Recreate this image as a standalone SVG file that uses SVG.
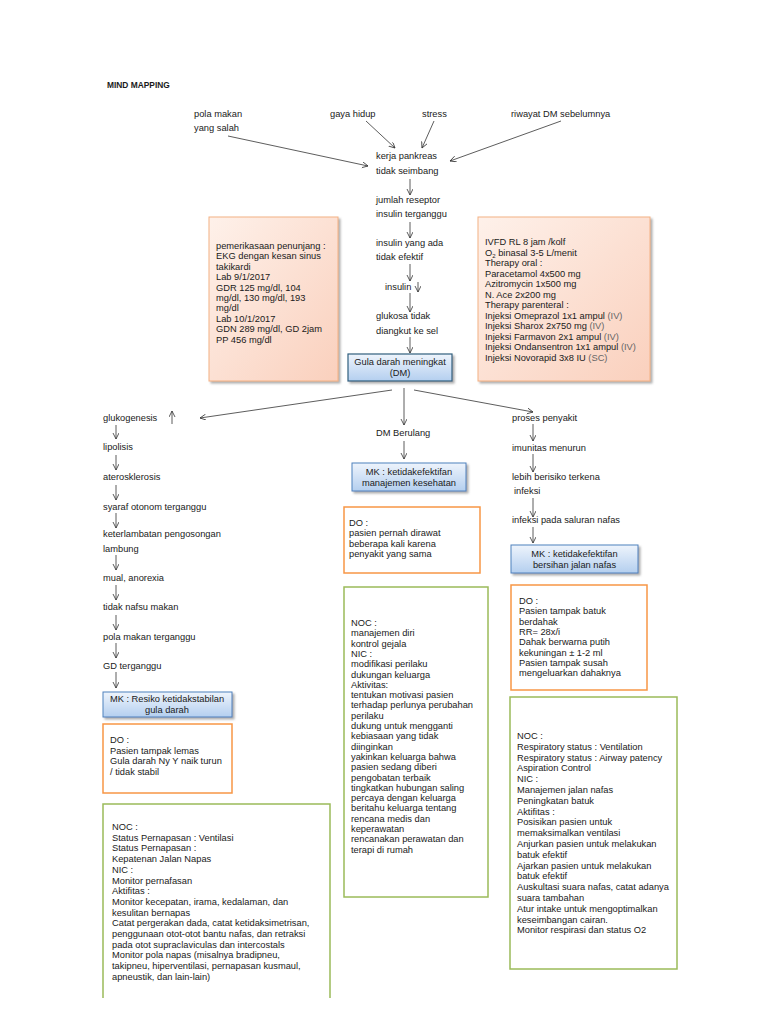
<svg xmlns="http://www.w3.org/2000/svg" width="768" height="1024" viewBox="0 0 768 1024">
<style>
text{font-family:"Liberation Sans",Arial,sans-serif;font-size:9.3px;fill:#1a1a1a}
.title{font-weight:bold;font-size:8.4px}
.c{text-anchor:middle}
.gray{fill:#666}
.arr{stroke:#333;stroke-width:0.8;fill:none;marker-end:url(#ah)}
.mk{fill:url(#blue);stroke:#4f81bd;stroke-width:1;filter:url(#sh)}
.pink{fill:url(#peach);stroke:#f4b183;stroke-width:1;filter:url(#sh)}
.do{fill:#fff;stroke:#f79646;stroke-width:1.5}
.noc{fill:#fff;stroke:#9bbb59;stroke-width:1.5}
</style>
<defs>
<marker id="ah" markerUnits="userSpaceOnUse" markerWidth="8" markerHeight="8" refX="6" refY="3" orient="auto">
<path d="M0,0 L6,3 L0,6" fill="none" stroke="#333" stroke-width="0.8"/>
</marker>
<linearGradient id="blue" x1="0" y1="0" x2="0" y2="1">
<stop offset="0" stop-color="#eef4fc"/><stop offset="1" stop-color="#b4cfef"/>
</linearGradient>
<linearGradient id="peach" x1="0" y1="0" x2="1" y2="1">
<stop offset="0" stop-color="#fef1ea"/><stop offset="1" stop-color="#fad0bd"/>
</linearGradient>
<filter id="sh" x="-10%" y="-10%" width="130%" height="130%">
<feDropShadow dx="2" dy="2" stdDeviation="1.2" flood-color="#777" flood-opacity="0.6"/>
</filter>
</defs>
<rect width="768" height="1024" fill="#fff"/>

<g id="title"><text class="title" x="107" y="88">MIND MAPPING</text></g>

<g id="n-pola-makan"><text x="194" y="117">pola makan</text><text x="194" y="131">yang salah</text></g>
<g id="n-gaya-hidup"><text x="330" y="117">gaya hidup</text></g>
<g id="n-stress"><text x="422" y="117">stress</text></g>
<g id="n-riwayat"><text x="511" y="117">riwayat DM sebelumnya</text></g>

<g id="n-kerja"><text x="376" y="159">kerja pankreas</text><text x="376" y="174">tidak seimbang</text></g>
<g id="n-jumlah"><text x="376" y="203">jumlah reseptor</text><text x="376" y="217">insulin terganggu</text></g>
<g id="n-insulin-ada"><text x="376" y="246">insulin yang ada</text><text x="376" y="260">tidak efektif</text></g>
<g id="n-insulin"><text x="385" y="290">insulin</text></g>
<g id="n-glukosa"><text x="376" y="319">glukosa tidak</text><text x="376" y="334">diangkut ke sel</text></g>
<g id="n-gula-darah"><rect x="348" y="354" width="104" height="27" fill="url(#blue)" stroke="#2f5f7f" stroke-width="1.2" filter="url(#sh)"/>
<text class="c" x="400" y="365">Gula darah meningkat</text><text class="c" x="400" y="376">(DM)</text></g>

<g id="n-penunjang"><rect class="pink" x="209" y="217" width="129" height="164"/>
<text x="216" y="249">pemerikasaan penunjang :<tspan x="216" dy="10.4">EKG dengan kesan sinus</tspan><tspan x="216" dy="10.4">takikardi</tspan><tspan x="216" dy="10.4">Lab 9/1/2017</tspan><tspan x="216" dy="10.4">GDR 125 mg/dl, 104</tspan><tspan x="216" dy="10.4">mg/dl, 130 mg/dl, 193</tspan><tspan x="216" dy="10.4">mg/dl</tspan><tspan x="216" dy="10.4">Lab 10/1/2017</tspan><tspan x="216" dy="10.4">GDN 289 mg/dl, GD 2jam</tspan><tspan x="216" dy="10.4">PP 456 mg/dl</tspan></text></g>

<g id="n-terapi"><rect class="pink" x="478" y="217" width="172" height="164"/>
<text x="485" y="245">IVFD RL 8 jam /kolf<tspan x="485" dy="10.5">O</tspan><tspan font-size="6" dy="2">2</tspan><tspan dy="-2"> binasal 3-5 L/menit</tspan><tspan x="485" dy="10.5">Therapy oral :</tspan><tspan x="485" dy="10.5">Paracetamol 4x500 mg</tspan><tspan x="485" dy="10.5">Azitromycin 1x500 mg</tspan><tspan x="485" dy="10.5">N. Ace  2x200 mg</tspan><tspan x="485" dy="10.5">Therapy parenteral :</tspan><tspan x="485" dy="10.5">Injeksi Omeprazol 1x1 ampul </tspan><tspan class="gray">(IV)</tspan><tspan x="485" dy="10.5">Injeksi Sharox 2x750 mg </tspan><tspan class="gray">(IV)</tspan><tspan x="485" dy="10.5">Injeksi Farmavon 2x1 ampul </tspan><tspan class="gray">(IV)</tspan><tspan x="485" dy="10.5">Injeksi Ondansentron 1x1 ampul </tspan><tspan class="gray">(IV)</tspan><tspan x="485" dy="10.5">Injeksi Novorapid  3x8 IU </tspan><tspan class="gray">(SC)</tspan></text></g>

<g id="n-glukogenesis"><text x="103" y="421">glukogenesis</text></g>
<g id="n-lipolisis"><text x="103" y="450">lipolisis</text></g>
<g id="n-aterosklerosis"><text x="103" y="480">aterosklerosis</text></g>
<g id="n-syaraf"><text x="103" y="510">syaraf otonom terganggu</text></g>
<g id="n-keterlambatan"><text x="103" y="537">keterlambatan pengosongan</text><text x="103" y="552">lambung</text></g>
<g id="n-mual"><text x="103" y="581">mual, anorexia</text></g>
<g id="n-nafsu"><text x="103" y="610">tidak nafsu makan</text></g>
<g id="n-pola-terganggu"><text x="103" y="640">pola makan terganggu</text></g>
<g id="n-gd"><text x="103" y="669">GD terganggu</text></g>
<g id="n-mk-gula"><rect class="mk" x="103" y="692" width="129" height="25"/>
<text class="c" x="167" y="702">MK : Resiko ketidakstabilan</text><text class="c" x="167" y="713">gula darah</text></g>
<g id="n-do-gula"><rect class="do" x="103" y="724" width="129" height="69"/>
<text x="110" y="743">DO :<tspan x="110" dy="10.5">Pasien tampak lemas</tspan><tspan x="110" dy="10.5">Gula darah Ny Y naik turun</tspan><tspan x="110" dy="10.5">/ tidak stabil</tspan></text></g>
<g id="n-noc-gula"><path class="noc" d="M103,998 V804 H330 V998"/>
<text x="112" y="830">NOC :<tspan x="112" dy="10.7">Status Pernapasan : Ventilasi</tspan><tspan x="112" dy="10.7">Status Pernapasan :</tspan><tspan x="112" dy="10.7">Kepatenan Jalan Napas</tspan><tspan x="112" dy="10.7">NIC :</tspan><tspan x="112" dy="10.7">Monitor pernafasan</tspan><tspan x="112" dy="10.7">Aktifitas  :</tspan><tspan x="112" dy="10.7">Monitor kecepatan, irama, kedalaman, dan</tspan><tspan x="112" dy="10.7">kesulitan bernapas</tspan><tspan x="112" dy="10.7">Catat pergerakan dada, catat ketidaksimetrisan,</tspan><tspan x="112" dy="10.7">penggunaan otot-otot bantu  nafas, dan retraksi</tspan><tspan x="112" dy="10.7">pada otot supraclaviculas dan intercostals</tspan><tspan x="112" dy="10.7">Monitor pola napas (misalnya bradipneu,</tspan><tspan x="112" dy="10.7">takipneu, hiperventilasi, pernapasan kusmaul,</tspan><tspan x="112" dy="10.7">apneustik, dan lain-lain)</tspan></text></g>

<g id="n-dm-berulang"><text x="376" y="436">DM Berulang</text></g>
<g id="n-mk-manajemen"><rect class="mk" x="352" y="463" width="114" height="28"/>
<text class="c" x="409" y="475">MK : ketidakefektifan</text><text class="c" x="409" y="486">manajemen kesehatan</text></g>
<g id="n-do-manajemen"><rect class="do" x="344" y="507" width="136" height="66"/>
<text x="349" y="526">DO :<tspan x="349" dy="10.3">pasien pernah dirawat</tspan><tspan x="349" dy="10.3">beberapa kali karena</tspan><tspan x="349" dy="10.3">penyakit yang sama</tspan></text></g>
<g id="n-noc-manajemen"><rect class="noc" x="344" y="587" width="144" height="310"/>
<text x="351" y="626">NOC :<tspan x="351" dy="10.3">manajemen diri</tspan><tspan x="351" dy="10.3">kontrol gejala</tspan><tspan x="351" dy="10.3">NIC :</tspan><tspan x="351" dy="10.3">modifikasi perilaku</tspan><tspan x="351" dy="10.3">dukungan keluarga</tspan><tspan x="351" dy="10.3">Aktivitas:</tspan><tspan x="351" dy="10.3">tentukan motivasi pasien</tspan><tspan x="351" dy="10.3">terhadap perlunya perubahan</tspan><tspan x="351" dy="10.3">perilaku</tspan><tspan x="351" dy="10.3">dukung untuk mengganti</tspan><tspan x="351" dy="10.3">kebiasaan yang tidak</tspan><tspan x="351" dy="10.3">diinginkan</tspan><tspan x="351" dy="10.3">yakinkan keluarga bahwa</tspan><tspan x="351" dy="10.3">pasien sedang diberi</tspan><tspan x="351" dy="10.3">pengobatan terbaik</tspan><tspan x="351" dy="10.3">tingkatkan hubungan saling</tspan><tspan x="351" dy="10.3">percaya dengan keluarga</tspan><tspan x="351" dy="10.3">beritahu keluarga tentang</tspan><tspan x="351" dy="10.3">rencana medis dan</tspan><tspan x="351" dy="10.3">keperawatan</tspan><tspan x="351" dy="10.3">rencanakan perawatan dan</tspan><tspan x="351" dy="10.3">terapi di rumah</tspan></text></g>

<g id="n-proses"><text x="512" y="421">proses penyakit</text></g>
<g id="n-imunitas"><text x="512" y="451">imunitas menurun</text></g>
<g id="n-berisiko"><text x="512" y="480">lebih berisiko terkena</text><text x="514" y="494">infeksi</text></g>
<g id="n-infeksi"><text x="512" y="523">infeksi pada saluran nafas</text></g>
<g id="n-mk-bersihan"><rect class="mk" x="511" y="545" width="127" height="28"/>
<text class="c" x="574.5" y="557">MK : ketidakefektifan</text><text class="c" x="574.5" y="568">bersihan jalan nafas</text></g>
<g id="n-do-bersihan"><rect class="do" x="511" y="585" width="136" height="105"/>
<text x="519" y="604">DO :<tspan x="519" dy="10.3">Pasien tampak batuk</tspan><tspan x="519" dy="10.3">berdahak</tspan><tspan x="519" dy="10.3">RR= 28x/i</tspan><tspan x="519" dy="10.3">Dahak berwarna putih</tspan><tspan x="519" dy="10.3">kekuningan ± 1-2 ml</tspan><tspan x="519" dy="10.3">Pasien tampak susah</tspan><tspan x="519" dy="10.3">mengeluarkan dahaknya</tspan></text></g>
<g id="n-noc-bersihan"><rect class="noc" x="510" y="697" width="167" height="272"/>
<text x="517" y="739">NOC :<tspan x="517" dy="10.8">Respiratory status  : Ventilation</tspan><tspan x="517" dy="10.8">Respiratory status  : Airway patency</tspan><tspan x="517" dy="10.8">Aspiration Control</tspan><tspan x="517" dy="10.8">NIC :</tspan><tspan x="517" dy="10.8">Manajemen jalan nafas</tspan><tspan x="517" dy="10.8">Peningkatan batuk</tspan><tspan x="517" dy="10.8">Aktifitas :</tspan><tspan x="517" dy="10.8">Posisikan pasien untuk</tspan><tspan x="517" dy="10.8">memaksimalkan ventilasi</tspan><tspan x="517" dy="10.8">Anjurkan pasien untuk melakukan</tspan><tspan x="517" dy="10.8">batuk efektif</tspan><tspan x="517" dy="10.8">Ajarkan pasien untuk melakukan</tspan><tspan x="517" dy="10.8">batuk efektif</tspan><tspan x="517" dy="10.8">Auskultasi suara nafas, catat adanya</tspan><tspan x="517" dy="10.8">suara tambahan</tspan><tspan x="517" dy="10.8">Atur intake untuk mengoptimalkan</tspan><tspan x="517" dy="10.8">keseimbangan cairan.</tspan><tspan x="517" dy="10.8">Monitor respirasi dan status O2</tspan></text></g>

<g id="connectors">
<line class="arr" x1="228" y1="136" x2="368" y2="166"/>
<line class="arr" x1="366" y1="121" x2="395" y2="148"/>
<line class="arr" x1="434" y1="121" x2="422" y2="148"/>
<line class="arr" x1="561" y1="121" x2="450" y2="161"/>
<line class="arr" x1="410" y1="179" x2="410" y2="195"/>
<line class="arr" x1="410" y1="222" x2="410" y2="238"/>
<line class="arr" x1="410" y1="264" x2="410" y2="281"/>
<line class="arr" x1="418" y1="282" x2="418" y2="292"/>
<line class="arr" x1="410" y1="293" x2="410" y2="312"/>
<line class="arr" x1="410" y1="337" x2="410" y2="353"/>
<line class="arr" x1="392" y1="390" x2="200" y2="418"/>
<line class="arr" x1="404" y1="388" x2="404" y2="425"/>
<line class="arr" x1="414" y1="390" x2="533" y2="412"/>
<line class="arr" x1="172" y1="424" x2="172" y2="411"/>
<line class="arr" x1="116" y1="425" x2="116" y2="439"/>
<line class="arr" x1="116" y1="455" x2="116" y2="470"/>
<line class="arr" x1="116" y1="485" x2="116" y2="500"/>
<line class="arr" x1="116" y1="513" x2="116" y2="528"/>
<line class="arr" x1="116" y1="555" x2="116" y2="570"/>
<line class="arr" x1="116" y1="585" x2="116" y2="600"/>
<line class="arr" x1="116" y1="615" x2="116" y2="630"/>
<line class="arr" x1="116" y1="643" x2="116" y2="658"/>
<line class="arr" x1="116" y1="672" x2="116" y2="688"/>
<line class="arr" x1="404" y1="441" x2="404" y2="459"/>
<line class="arr" x1="533" y1="424" x2="533" y2="441"/>
<line class="arr" x1="533" y1="454" x2="533" y2="472"/>
<line class="arr" x1="533" y1="498" x2="533" y2="517"/>
<line class="arr" x1="533" y1="527" x2="533" y2="543"/>
</g>
</svg>
